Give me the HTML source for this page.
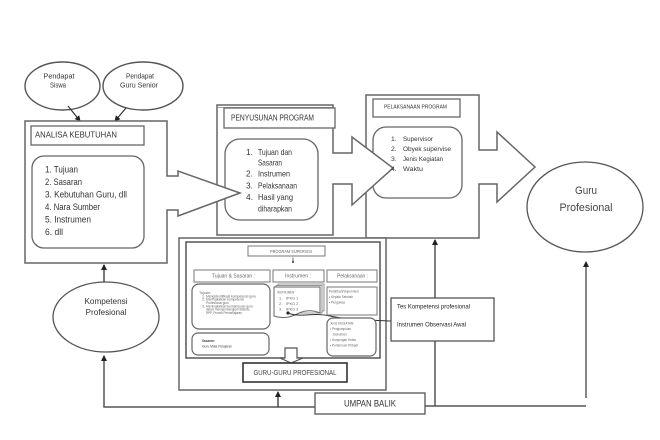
<!DOCTYPE html>
<html><head><meta charset="utf-8"><style>
html,body{margin:0;padding:0;background:#fff;}
svg{display:block;}
text{font-family:"Liberation Sans",sans-serif;}
</style></head><body>
<svg width="660" height="440" viewBox="0 0 660 440" xmlns="http://www.w3.org/2000/svg">
<defs>
<marker id="ah" markerWidth="6" markerHeight="6" refX="5" refY="3" orient="auto" markerUnits="userSpaceOnUse">
<path d="M0,0 L6,3 L0,6 Z" fill="#222"/>
</marker>
</defs>
<rect width="660" height="440" fill="#fff"/>

<!-- Pendapat ellipses -->
<ellipse cx="62.5" cy="86" rx="37.5" ry="24" fill="#fff" stroke="#555" stroke-width="1.4"/>
<ellipse cx="143" cy="86" rx="40" ry="24" fill="#fff" stroke="#555" stroke-width="1.4"/>
<text x="59" y="78.5" font-size="7.5" fill="#333" text-anchor="middle" textLength="31" lengthAdjust="spacingAndGlyphs">Pendapat</text>
<text x="58" y="87.5" font-size="7.5" fill="#333" text-anchor="middle" textLength="16" lengthAdjust="spacingAndGlyphs">Siswa</text>
<text x="140" y="78.5" font-size="7.5" fill="#333" text-anchor="middle" textLength="28" lengthAdjust="spacingAndGlyphs">Pendapat</text>
<text x="139" y="87.5" font-size="7.5" fill="#333" text-anchor="middle" textLength="38" lengthAdjust="spacingAndGlyphs">Guru Senior</text>
<line x1="68" y1="106" x2="80" y2="121" stroke="#333" stroke-width="1.2" marker-end="url(#ah)"/>
<line x1="126" y1="108" x2="115" y2="121" stroke="#333" stroke-width="1.2" marker-end="url(#ah)"/>

<!-- Pelaksanaan Program -->
<path d="M366,95 H479 V150 H497 V132 L535,167 L497,202 V184 H479 V238 H366 Z" fill="#fff" stroke="#666" stroke-width="1.5"/>
<rect x="373" y="99" width="87" height="18" fill="#fff" stroke="#666" stroke-width="1.3"/>
<text x="384" y="108.5" font-size="5.8" fill="#333" textLength="63" lengthAdjust="spacingAndGlyphs">PELAKSANAAN PROGRAM</text>
<rect x="373" y="127" width="89" height="71" rx="13" fill="#fff" stroke="#666" stroke-width="1.3"/>

<!-- Penyusunan Program -->
<path d="M217,105 H333 V153 H352 V137 L393,168 L352,205 V184 H333 V235 H217 Z" fill="#fff" stroke="#666" stroke-width="1.5"/>
<line x1="217" y1="107.5" x2="333" y2="107.5" stroke="#888" stroke-width="0.8"/>
<rect x="224" y="108" width="111" height="20" fill="#fff" stroke="#666" stroke-width="1.3"/>
<text x="231" y="120.5" font-size="8" fill="#333" textLength="83" lengthAdjust="spacingAndGlyphs">PENYUSUNAN PROGRAM</text>
<rect x="225" y="139" width="93" height="81" rx="15" fill="#fff" stroke="#666" stroke-width="1.3"/>

<!-- Analisa Kebutuhan -->
<path d="M25,121 H167 V176 H178 V171 L240,193 L178,216 V210 H167 V263 H25 Z" fill="#fff" stroke="#666" stroke-width="1.5"/>
<rect x="31" y="126" width="113" height="19" fill="#fff" stroke="#666" stroke-width="1.3"/>
<text x="35" y="137.5" font-size="8.5" fill="#333" textLength="82" lengthAdjust="spacingAndGlyphs">ANALISA KEBUTUHAN</text>
<rect x="32" y="156" width="112" height="92" rx="12" fill="#fff" stroke="#666" stroke-width="1.3"/>
<g font-size="9.5" fill="#333">
<text x="45" y="172.5" textLength="33" lengthAdjust="spacingAndGlyphs">1. Tujuan</text>
<text x="45" y="185" textLength="37" lengthAdjust="spacingAndGlyphs">2. Sasaran</text>
<text x="45" y="197.5" textLength="82" lengthAdjust="spacingAndGlyphs">3. Kebutuhan Guru, dll</text>
<text x="45" y="210" textLength="55" lengthAdjust="spacingAndGlyphs">4. Nara Sumber</text>
<text x="45" y="222.5" textLength="46" lengthAdjust="spacingAndGlyphs">5. Instrumen</text>
<text x="45" y="235" textLength="18" lengthAdjust="spacingAndGlyphs">6. dll</text>
</g>

<!-- Penyusunan list -->
<g font-size="8.3" fill="#333">
<text x="246" y="155">1.</text><text x="258" y="155" textLength="34" lengthAdjust="spacingAndGlyphs">Tujuan dan</text>
<text x="258" y="165.5" textLength="24" lengthAdjust="spacingAndGlyphs">Sasaran</text>
<text x="246" y="176.5">2.</text><text x="258" y="176.5" textLength="32" lengthAdjust="spacingAndGlyphs">Instrumen</text>
<text x="246" y="188.5">3.</text><text x="258" y="188.5" textLength="39" lengthAdjust="spacingAndGlyphs">Pelaksanaan</text>
<text x="246" y="200">4.</text><text x="258" y="200" textLength="35" lengthAdjust="spacingAndGlyphs">Hasil yang</text>
<text x="258" y="211.5" textLength="34" lengthAdjust="spacingAndGlyphs">diharapkan</text>
</g>

<!-- Pelaksanaan list -->
<g font-size="6.8" fill="#333">
<text x="391" y="141">1.</text><text x="403" y="141" textLength="30" lengthAdjust="spacingAndGlyphs">Supervisor</text>
<text x="391" y="151">2.</text><text x="403" y="151" textLength="48" lengthAdjust="spacingAndGlyphs">Obyek supervise</text>
<text x="391" y="161">3.</text><text x="403" y="161" textLength="40" lengthAdjust="spacingAndGlyphs">Jenis Kegiatan</text>
<text x="391" y="171">4.</text><text x="403" y="171" textLength="20" lengthAdjust="spacingAndGlyphs">Waktu</text>
</g>

<!-- Guru Profesional -->
<ellipse cx="585" cy="207" rx="58" ry="45" fill="#fff" stroke="#555" stroke-width="1.3"/>
<text x="586" y="194" font-size="11" fill="#444" text-anchor="middle" textLength="22" lengthAdjust="spacingAndGlyphs">Guru</text>
<text x="586" y="211" font-size="11" fill="#444" text-anchor="middle" textLength="53" lengthAdjust="spacingAndGlyphs">Profesional</text>

<!-- Kompetensi Profesional -->
<ellipse cx="106" cy="317" rx="53" ry="35" fill="#fff" stroke="#555" stroke-width="1.3"/>
<text x="106" y="304" font-size="8.5" fill="#333" text-anchor="middle" textLength="43" lengthAdjust="spacingAndGlyphs">Kompetensi</text>
<text x="106" y="315" font-size="8.5" fill="#333" text-anchor="middle" textLength="41" lengthAdjust="spacingAndGlyphs">Profesional</text>
<line x1="104" y1="282" x2="104" y2="265" stroke="#333" stroke-width="1.3" marker-end="url(#ah)"/>

<!-- Feedback lines -->
<polyline points="104,407 104,356" fill="none" stroke="#555" stroke-width="1.5" marker-end="url(#ah)"/>
<line x1="103.3" y1="407" x2="315" y2="407" stroke="#555" stroke-width="1.5"/>
<line x1="278" y1="407" x2="278" y2="392" stroke="#333" stroke-width="1.3" marker-end="url(#ah)"/>
<line x1="425" y1="406" x2="586" y2="406" stroke="#555" stroke-width="1.5"/>
<line x1="435" y1="406" x2="435" y2="240" stroke="#555" stroke-width="1.5" marker-end="url(#ah)"/>
<line x1="586" y1="398" x2="586" y2="262" stroke="#444" stroke-width="1.3" marker-end="url(#ah)"/>

<!-- UMPAN BALIK -->
<rect x="315" y="393" width="110" height="21" fill="#fff" stroke="#555" stroke-width="1.3"/>
<text x="370" y="406.5" font-size="9" fill="#333" text-anchor="middle" textLength="52" lengthAdjust="spacingAndGlyphs">UMPAN BALIK</text>

<!-- Lower program supervisi block -->
<rect x="179" y="238" width="207" height="152" fill="#fff" stroke="#666" stroke-width="1.5"/>
<rect x="186" y="242" width="194" height="116" fill="#fff" stroke="#555" stroke-width="1.5"/>
<rect x="248" y="246" width="77" height="10" fill="#fff" stroke="#777" stroke-width="1"/>
<text x="291" y="253" font-size="4.5" fill="#666" text-anchor="middle" textLength="42" lengthAdjust="spacingAndGlyphs">PROGRAM SUPERVISI</text>
<line x1="293" y1="257.5" x2="293" y2="262" stroke="#444" stroke-width="0.8"/>
<circle cx="293" cy="262" r="1" fill="#333"/>

<rect x="194" y="270" width="76" height="12" fill="#fff" stroke="#777" stroke-width="1"/>
<rect x="273" y="270" width="51" height="12" fill="#fff" stroke="#777" stroke-width="1"/>
<rect x="327" y="270" width="50" height="12" fill="#fff" stroke="#777" stroke-width="1"/>
<g font-size="5" fill="#666">
<text x="212" y="277.5" textLength="43" lengthAdjust="spacingAndGlyphs">Tujuan &amp; Sasaran :</text>
<text x="285" y="277.5" textLength="26" lengthAdjust="spacingAndGlyphs">Instrumen :</text>
<text x="337" y="277.5" textLength="31" lengthAdjust="spacingAndGlyphs">Pelaksanaan :</text>
</g>

<!-- Tujuan box -->
<rect x="192" y="284" width="78" height="45" rx="7" fill="#fff" stroke="#666" stroke-width="1.2"/>
<g font-size="3.6" fill="#666">
<text x="199" y="294">Tujuan:</text>
<text x="202" y="297.3">1.</text><text x="206" y="297.3" textLength="50" lengthAdjust="spacingAndGlyphs">Mengidentifikasi kompetensi guru</text>
<text x="202" y="300.6">2.</text><text x="206" y="300.6" textLength="38" lengthAdjust="spacingAndGlyphs">Meningkatkan kompetensi</text>
<text x="206" y="303.9" textLength="23" lengthAdjust="spacingAndGlyphs">Profesional guru</text>
<text x="202" y="307.3">3.</text><text x="206" y="307.3" textLength="47" lengthAdjust="spacingAndGlyphs">Meningkatkan kemampuan guru</text>
<text x="206" y="310.6" textLength="44" lengthAdjust="spacingAndGlyphs">dalam mengembangkan Silabus,</text>
<text x="206" y="313.9" textLength="36" lengthAdjust="spacingAndGlyphs">RPP, Proses Pembelajaran</text>
</g>
<!-- Sasaran box -->
<rect x="192" y="333" width="77" height="22" rx="6" fill="#fff" stroke="#666" stroke-width="1.2"/>
<text x="202" y="342" font-size="3.8" fill="#444" font-weight="bold" textLength="13" lengthAdjust="spacingAndGlyphs">Sasaran:</text>
<text x="202" y="347.5" font-size="3.8" fill="#444" textLength="30" lengthAdjust="spacingAndGlyphs">Guru Mata Pelajaran</text>

<!-- Instrumen document -->
<path d="M278,284 H324 V311 H278 Z" fill="#fff" stroke="#777" stroke-width="0.8"/>
<path d="M276,285.5 H322 V313 H276 Z" fill="#fff" stroke="#777" stroke-width="0.8"/>
<path d="M274,287 H320 V313 Q308,308 297,314 Q285,320 274,316 Z" fill="#fff" stroke="#666" stroke-width="1"/>
<g font-size="3.8" fill="#666">
<text x="277" y="293.5" textLength="18" lengthAdjust="spacingAndGlyphs">INSTRUMEN:</text>
<text x="279" y="299.5">1.</text><text x="286" y="299.5">IPKG 1</text>
<text x="279" y="305">2.</text><text x="286" y="305">IPKG 2</text>
<text x="279" y="310.5">3.</text><text x="286" y="310.5">IPKG 3</text>
</g>
<circle cx="288" cy="313" r="1.6" fill="#222"/>
<path d="M288,313 C300,318 312,312 330,316 S370,320 391,321" fill="none" stroke="#333" stroke-width="1"/>

<!-- Pelaksanaan boxes -->
<rect x="327" y="287" width="50" height="28" fill="#fff" stroke="#777" stroke-width="1"/>
<g font-size="3.6" fill="#666">
<text x="329" y="292.5" textLength="30" lengthAdjust="spacingAndGlyphs">Pelatihan/Supervisor</text>
<text x="329" y="298" textLength="24" lengthAdjust="spacingAndGlyphs">• Kepala Sekolah</text>
<text x="329" y="303.5" textLength="16" lengthAdjust="spacingAndGlyphs">• Pengawas</text>
</g>
<rect x="327" y="318" width="49" height="38" rx="6" fill="#fff" stroke="#666" stroke-width="1.2"/>
<g font-size="3.6" fill="#666">
<text x="330" y="324.5" textLength="24" lengthAdjust="spacingAndGlyphs">Jenis KEGIATAN:</text>
<text x="330" y="330" textLength="21" lengthAdjust="spacingAndGlyphs">• Pengumpulan</text>
<text x="333" y="335.5" textLength="14" lengthAdjust="spacingAndGlyphs">Dokumen</text>
<text x="330" y="341" textLength="26" lengthAdjust="spacingAndGlyphs">• Kunjungan Kelas</text>
<text x="330" y="346.5" textLength="28" lengthAdjust="spacingAndGlyphs">• Pertemuan Pribadi</text>
</g>

<!-- Block arrow down -->
<path d="M285,348 H297 V358 H303 L291,363 L280,358 H285 Z" fill="#fff" stroke="#555" stroke-width="1.2"/>

<!-- GURU-GURU PROFESIONAL -->
<rect x="243" y="363" width="104" height="19" fill="#fff" stroke="#333" stroke-width="1.6"/>
<text x="295" y="375" font-size="7" fill="#444" text-anchor="middle" textLength="83" lengthAdjust="spacingAndGlyphs">GURU-GURU PROFESIONAL</text>

<!-- Tes Kompetensi box -->
<rect x="391" y="298" width="103" height="43" fill="#fff" stroke="#555" stroke-width="1.3"/>
<text x="397" y="308.5" font-size="6.8" fill="#222" textLength="73" lengthAdjust="spacingAndGlyphs">Tes Kompetensi profesional</text>
<text x="397" y="326.5" font-size="6.8" fill="#222" textLength="69" lengthAdjust="spacingAndGlyphs">Instrumen Observasi Awal</text>
</svg>
</body></html>
